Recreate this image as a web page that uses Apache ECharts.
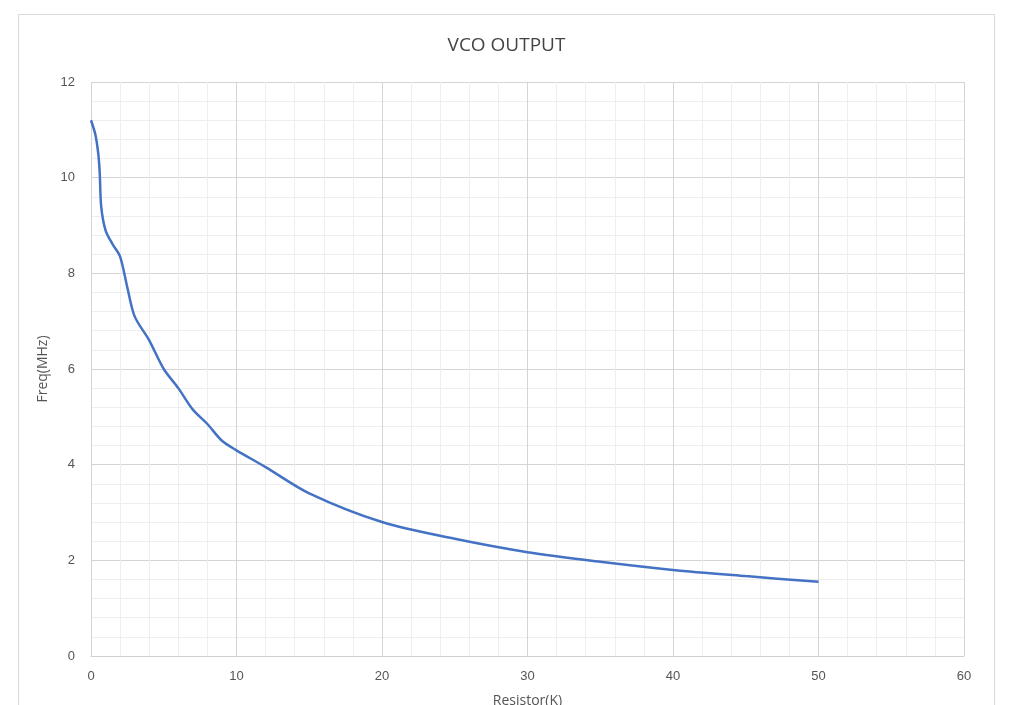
<!DOCTYPE html>
<html><head><meta charset="utf-8">
<script src="https://cdn.jsdelivr.net/npm/echarts@6/dist/echarts.min.js"></script>
<style>html,body{margin:0;background:#fff}#c{position:absolute;left:18px;top:14px;width:977px;height:700px;border:1px solid #d9d9d9;box-sizing:border-box}</style>
</head><body><div id="c"></div>
<script>
const resistor = [0, 0.3, 0.5, 0.6, 0.7, 1, 1.5, 2, 2.5, 3, 4, 5, 6, 7, 8, 9, 10, 12, 15, 20, 25, 30, 35, 40, 45, 50];
const freq = [11.2, 10.9, 10.5, 10.1, 9.4, 8.9, 8.6, 8.35, 7.7, 7.1, 6.6, 6.0, 5.6, 5.15, 4.85, 4.5, 4.3, 3.95, 3.4, 2.8, 2.45, 2.17, 1.97, 1.8, 1.67, 1.55];
const chart = echarts.init(document.getElementById('c'));
chart.setOption({
  animation: false,
  title: { text: 'VCO OUTPUT', left: 'center', top: 16, textStyle: { fontFamily: 'Open Sans', fontSize: 19, fontWeight: 'normal', color: '#444' } },
  grid: { left: 72, right: 30, top: 67, bottom: 56 },
  xAxis: {
    type: 'value', min: 0, max: 60, interval: 10,
    name: 'Resistor(K)', nameLocation: 'middle', nameGap: 38,
    nameTextStyle: { fontFamily: 'Open Sans', fontSize: 14, color: '#555' },
    axisLine: { lineStyle: { color: '#d0d0d0' } }, axisTick: { show: false },
    axisLabel: { color: '#555', fontSize: 13, margin: 14 },
    splitLine: { lineStyle: { color: '#d4d4d4' } },
    minorTick: { show: false, splitNumber: 5 },
    minorSplitLine: { show: true, lineStyle: { color: '#eeeeee' } }
  },
  yAxis: {
    type: 'value', min: 0, max: 12, interval: 2,
    name: 'Freq(MHz)', nameLocation: 'middle', nameGap: 39,
    nameTextStyle: { fontFamily: 'Open Sans', fontSize: 14, color: '#555' },
    axisLine: { show: false }, axisTick: { show: false },
    axisLabel: { color: '#555', fontSize: 13, margin: 16 },
    splitLine: { lineStyle: { color: '#d4d4d4' } },
    minorTick: { show: false, splitNumber: 5 },
    minorSplitLine: { show: true, lineStyle: { color: '#eeeeee' } }
  },
  series: [{
    type: 'line', data: resistor.map((r, i) => [r, freq[i]]),
    smooth: 0.3, showSymbol: false,
    lineStyle: { color: '#4472c4', width: 2.5 }
  }]
});
</script></body></html>
